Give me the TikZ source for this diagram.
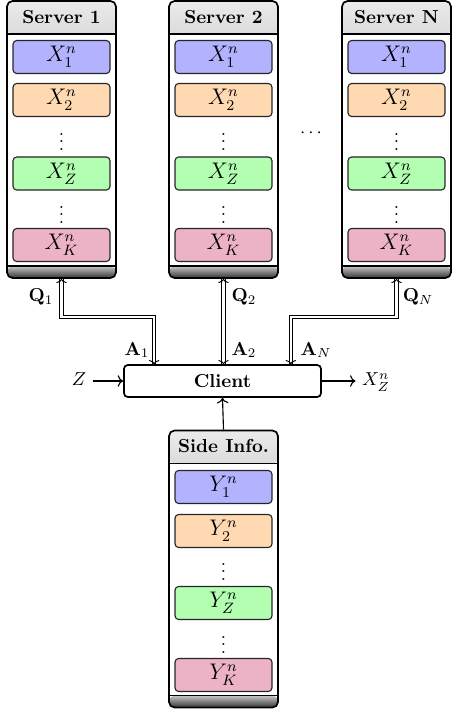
\documentclass[tikz,border=0pt]{standalone}
\usetikzlibrary{arrows.meta,calc}
\begin{document}
\begin{tikzpicture}[x=0.532pt,y=-0.532pt,
  item/.style={draw=black!85, line width=0.6pt, rounded corners=2pt, minimum width=51.6pt, minimum height=17.6pt, inner sep=0pt, font=\large},
  itemA/.style={item, fill=blue!30},
  itemB/.style={item, fill=orange!30},
  itemC/.style={item, fill=green!30},
  itemD/.style={item, fill=purple!30},
  store/.style={draw, line width=0.9pt, rounded corners=3pt, minimum width=58pt, minimum height=147.4pt, inner sep=0pt,
    path picture={
      \shade[top color=black!8, bottom color=black!58] (path picture bounding box.north west) rectangle ([yshift=-17.6pt]path picture bounding box.north east);
      \draw[line width=0.9pt] ([yshift=-17.6pt]path picture bounding box.north west) -- ([yshift=-17.6pt]path picture bounding box.north east);
      \shade[top color=black!22, bottom color=black!80] ([yshift=6.4pt]path picture bounding box.south west) rectangle (path picture bounding box.south east);
      \draw[line width=0.9pt] ([yshift=6.4pt]path picture bounding box.south west) -- ([yshift=6.4pt]path picture bounding box.south east);
    }},
  ttl/.style={font=\bfseries},
  link/.style={double, double distance=1.4pt, line width=0.5pt},
  tipmark/.style={-{To[length=2.2pt,width=5.5pt]}, line width=0.5pt},
  arr/.style={->, line width=0.6pt}
]
\useasboundingbox (0,0) rectangle (457,710);

% Server 1
\node[store] (s1) at (61.5,139.5) {};
\node[ttl] (t1) at ([yshift=-8.8pt]s1.north) {Server 1};
\node[itemA] (s1a) at (61.5,57) {$X_1^n$};
\node[itemB] (s1b) at (61.5,100) {$X_2^n$};
\node (s1d1) at (61.5,136) {$\vdots$};
\node[itemC] (s1c) at (61.5,173.5) {$X_Z^n$};
\node (s1d2) at (61.5,209) {$\vdots$};
\node[itemD] (s1e) at (61.5,245) {$X_K^n$};

% Server 2
\node[store] (s2) at (223.5,139.5) {};
\node[ttl] (t2) at ([yshift=-8.8pt]s2.north) {Server 2};
\node[itemA] (s2a) at (223.5,57) {$X_1^n$};
\node[itemB] (s2b) at (223.5,100) {$X_2^n$};
\node (s2d1) at (223.5,136) {$\vdots$};
\node[itemC] (s2c) at (223.5,173.5) {$X_Z^n$};
\node (s2d2) at (223.5,209) {$\vdots$};
\node[itemD] (s2e) at (223.5,245) {$X_K^n$};

% Server N
\node[store] (sN) at (396.5,139.5) {};
\node[ttl] (tN) at ([yshift=-8.8pt]sN.north) {Server N};
\node[itemA] (sNa) at (396.5,57) {$X_1^n$};
\node[itemB] (sNb) at (396.5,100) {$X_2^n$};
\node (sNd1) at (396.5,136) {$\vdots$};
\node[itemC] (sNc) at (396.5,173.5) {$X_Z^n$};
\node (sNd2) at (396.5,209) {$\vdots$};
\node[itemD] (sNe) at (396.5,245) {$X_K^n$};

\node (hd) at (311,133) {$\cdots$};

% Side info
\node[store] (si) at (223.5,569) {};
\node[ttl] (ts) at ([yshift=-8.8pt]si.north) {Side Info.};
\node[itemA] (sia) at (223.5,487) {$Y_1^n$};
\node[itemB] (sib) at (223.5,531) {$Y_2^n$};
\node (sid1) at (223.5,566) {$\vdots$};
\node[itemC] (sic) at (223.5,603) {$Y_Z^n$};
\node (sid2) at (223.5,639) {$\vdots$};
\node[itemD] (sie) at (223.5,675) {$Y_K^n$};

% Client
\node[draw, line width=0.9pt, rounded corners=2pt, minimum width=104.8pt, minimum height=17pt, font=\bfseries] (client) at (222.5,381) {Client};

\node (z) at (79,379) {$Z$};
\node (out) at (376,382) {$X_Z^n$};
\draw[arr] (z.east |- client.west) -- (client.west);
\draw[arr] (client.east) -- (out.west |- client.east);
\draw[arr] (si.north) -- (client.south);

% links
\coordinate (j) at (0,317);
\coordinate (c1) at ([xshift=16.5pt]client.north west);
\coordinate (cN) at ([xshift=-16.5pt]client.north east);
\coordinate (c2) at (s2.south |- client.north);
\draw[link] (s1.south) -- (s1.south |- j) -| (c1);
\draw[link] (s2.south) -- (c2);
\draw[link] (sN.south) -- (sN.south |- j) -| (cN);
\foreach \n in {s1,s2,sN}{
  \draw[tipmark] ([yshift=-0.2pt]\n.south) -- (\n.south);
}
\foreach \c in {c1,c2,cN}{
  \draw[tipmark] ([yshift=0.2pt]\c) -- (\c);
}

\node at (41,297) {$\mathbf{Q}_1$};
\node at (137,350) {$\mathbf{A}_1$};
\node at (244,297) {$\mathbf{Q}_2$};
\node at (244,350) {$\mathbf{A}_2$};
\node at (418,297) {$\mathbf{Q}_N$};
\node at (316,350) {$\mathbf{A}_N$};
\end{tikzpicture}
\end{document}
